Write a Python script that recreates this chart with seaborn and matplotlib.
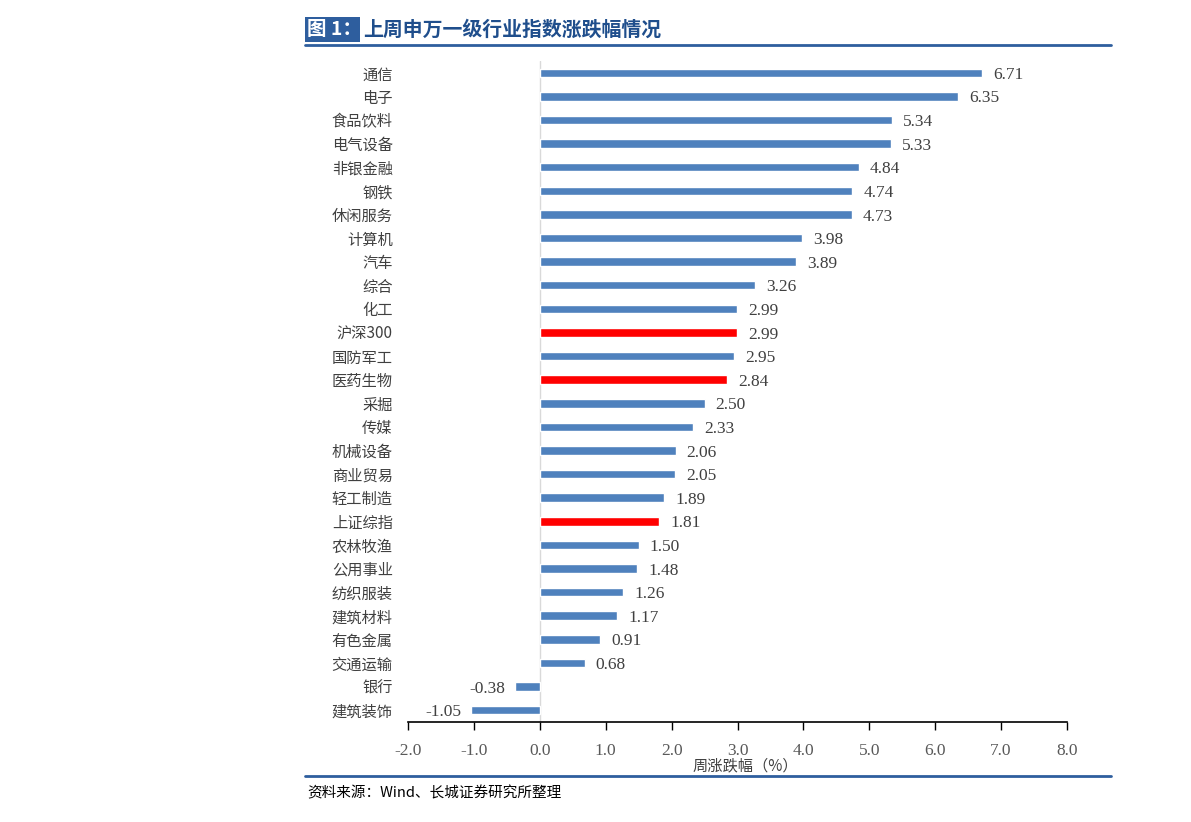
import matplotlib
matplotlib.use("Agg")
import matplotlib.pyplot as plt
import seaborn as sns
import pandas as pd
from matplotlib.patches import Rectangle
from matplotlib.lines import Line2D

categories = ["通信", "电子", "食品饮料", "电气设备", "非银金融", "钢铁", "休闲服务", "计算机",
              "汽车", "综合", "化工", "沪深300", "国防军工", "医药生物", "采掘", "传媒",
              "机械设备", "商业贸易", "轻工制造", "上证综指", "农林牧渔", "公用事业", "纺织服装",
              "建筑材料", "有色金属", "交通运输", "银行", "建筑装饰"]
values = [6.71, 6.35, 5.34, 5.33, 4.84, 4.74, 4.73, 3.98, 3.89, 3.26, 2.99, 2.99, 2.95, 2.84,
          2.50, 2.33, 2.06, 2.05, 1.89, 1.81, 1.50, 1.48, 1.26, 1.17, 0.91, 0.68, -0.38, -1.05]
index_names = ["沪深300", "医药生物", "上证综指"]
xticks = [-2.0, -1.0, 0.0, 1.0, 2.0, 3.0, 4.0, 5.0, 6.0, 7.0, 8.0]

df = pd.DataFrame({"cat": categories, "val": values})
df["grp"] = ["hl" if c in index_names else "ind" for c in categories]

sns.set_theme(style="white")
plt.rcParams["font.family"] = ["Noto Sans CJK SC", "DejaVu Sans"]

fig = plt.figure(figsize=(11.91, 8.22), dpi=100)
ax = fig.add_axes([0.3426, 0.1217, 0.5533, 0.8041])

sns.barplot(data=df, y="cat", x="val", hue="grp", orient="h",
            palette={"ind": "#4F81BD", "hl": "#FF0000"}, dodge=False,
            width=0.36, legend=False, ax=ax, saturation=1)

ax.set_xlim(-2, 8)
ax.set_ylim(len(categories) - 0.5, -0.5)
ax.axvline(0, color="#D9D9D9", lw=1, zorder=0)
for s in ["left", "top", "right"]:
    ax.spines[s].set_visible(False)
ax.spines["bottom"].set_color("#000000")
ax.spines["bottom"].set_linewidth(1.2)
ax.set_xticks(xticks)
ax.set_xticklabels([f"{t:.1f}" for t in xticks], fontfamily=["Liberation Serif"],
                   fontsize=12.5, color="#595959")
ax.tick_params(axis="x", direction="out", length=6, width=1, color="#000000", pad=9, bottom=True)
ax.tick_params(axis="y", length=0, pad=11)
for lab in ax.get_yticklabels():
    lab.set_fontsize(11)
    lab.set_color("#404040")
ax.set_xlabel("")
ax.set_ylabel("")

for i, v in enumerate(values):
    if v >= 0:
        ax.annotate(f"{v:.2f}", (v, i), xytext=(8, -1.5), textcoords="offset points",
                    ha="left", va="center", fontsize=12.5, color="#404040",
                    fontfamily=["Liberation Serif"])
    else:
        ax.annotate(f"{v:.2f}", (v, i), xytext=(-7, -1.5), textcoords="offset points",
                    ha="right", va="center", fontsize=12.5, color="#404040",
                    fontfamily=["Liberation Serif"])

fig.text(0.6255, 0.068, "周涨跌幅（%）", ha="center", va="center", fontsize=11, color="#404040")

# header
fig.add_artist(Rectangle((0.2561, 0.9489), 0.0462, 0.0304, transform=fig.transFigure,
                         facecolor="#2E5E9E", edgecolor="none"))
fig.text(0.2575, 0.9641, "图 1：", ha="left", va="center", fontsize=14, fontweight="bold",
         color="white")
fig.text(0.3045, 0.9641, "上周申万一级行业指数涨跌幅情况", ha="left", va="center",
         fontsize=14.3, fontweight="bold", color="#1F4E8C")
fig.add_artist(Line2D([0.2561, 0.9328], [0.9453, 0.9453], transform=fig.transFigure,
                      color="#2E5E9E", lw=2))
fig.add_artist(Line2D([0.2561, 0.9328], [0.0560, 0.0560], transform=fig.transFigure,
                      color="#2E5E9E", lw=2))
fig.text(0.2578, 0.0353, "资料来源：Wind、长城证券研究所整理", ha="left", va="center",
         fontsize=10.5, style="italic", color="#000000")

fig.savefig("out.png", dpi=100)
